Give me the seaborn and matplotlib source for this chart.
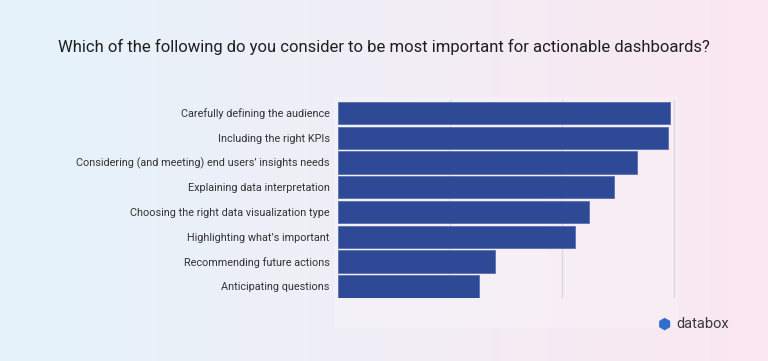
import numpy as np
import pandas as pd
import matplotlib.pyplot as plt
import seaborn as sns
from matplotlib.colors import LinearSegmentedColormap
from matplotlib.patches import Rectangle

# 数据
title = "Which of the following do you consider to be most important for actionable dashboards?"
answers = [
    "Carefully defining the audience",
    "Including the right KPIs",
    "Considering (and meeting) end users\u2019 insights needs",
    "Explaining data interpretation",
    "Choosing the right data visualization type",
    "Highlighting what\u2019s important",
    "Recommending future actions",
    "Anticipating questions",
]
scores = [29.6, 29.5, 26.7, 24.6, 22.4, 21.2, 14.0, 12.6]

df = pd.DataFrame({"answer": answers, "score": scores})

sns.set_theme(style="white")
plt.rcParams['font.family'] = ['Roboto', 'DejaVu Sans']

W, H = 768, 361
fig = plt.figure(figsize=(W / 100, H / 100), dpi=100)

# 背景渐变
bg = fig.add_axes([0, 0, 1, 1], zorder=-10)
cmap = LinearSegmentedColormap.from_list("bg", ["#e4f3fb", "#f1eef6", "#fbe7f0"])
bg.imshow(np.linspace(0, 1, 256).reshape(1, -1), cmap=cmap, aspect="auto",
          extent=[0, 1, 0, 1])
bg.set_axis_off()
bg.add_patch(Rectangle((334 / W, 1 - 328 / H), 344 / W, 231 / H,
                       color="white", alpha=0.22, lw=0))

# 条形图
ax = fig.add_axes([338 / W, 1 - 298 / H, 340 / W, 198 / H])
sns.barplot(data=df, y="answer", x="score", orient="h", color="#2e4996",
            width=0.9, saturation=1, edgecolor="#5a6fb0", linewidth=0.6, ax=ax)
ax.set_xlim(0, 30.35)
ax.set_ylim(7.47, -0.52)
ax.patch.set_alpha(0)
ax.set_xticks([10, 20, 30])
ax.xaxis.grid(True, color="#d9d6dc", lw=1)
ax.set_axisbelow(True)
ax.tick_params(axis="x", length=0, labelbottom=False)
ax.tick_params(axis="y", length=0, labelsize=7.8, colors="#333333", pad=6)
ax.set_xlabel("")
ax.set_ylabel("")
for s in ax.spines.values():
    s.set_visible(False)

fig.text(0.5, 1 - 47 / H, title, ha="center", va="center", fontsize=12,
         color="#1f1f1f")

# logo
fig.text(665 / W, 1 - 324 / H, "\u2b22", ha="center", va="center",
         fontsize=11, color="#2f6fd0", family=['DejaVu Sans'])
fig.text(676 / W, 1 - 324 / H, "databox", ha="left", va="center",
         fontsize=10.5, color="#3a3a3a")

fig.savefig("out.png", dpi=100)
